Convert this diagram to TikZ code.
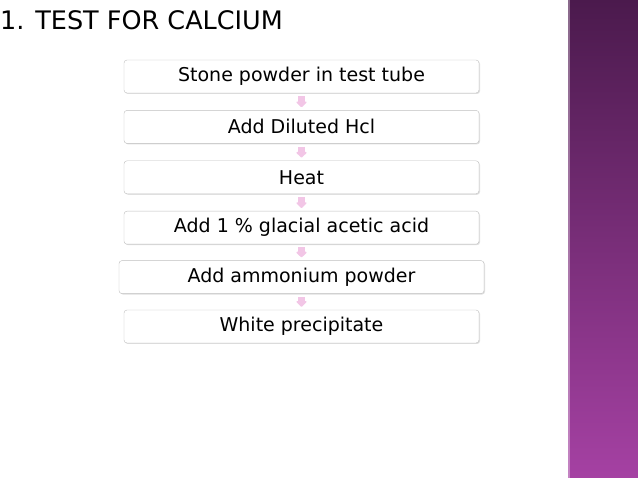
\documentclass[tikz,border=0pt]{standalone}
\usepackage{fontspec}
\setmainfont{DejaVu Sans}
\usetikzlibrary{positioning, arrows.meta, shadows}
\definecolor{barTop}{HTML}{4B1A4D}
\definecolor{barBot}{HTML}{A541A3}
\definecolor{chev}{HTML}{F2C6E6}

\begin{document}
\begin{tikzpicture}[x=1pt,y=1pt,node distance=17pt,
  stepbox/.style={draw=gray!50,rounded corners=3pt,fill=white,minimum width=355pt,
    minimum height=33pt,font=\fontsize{19}{22}\selectfont,
    drop shadow={shadow xshift=1pt,shadow yshift=-1pt,opacity=0.25}},
  chevarrow/.style={-{Triangle[width=12pt,length=6pt,round]},line width=7pt,draw=chev,
    shorten <=3pt,shorten >=3pt}]
  \useasboundingbox (0,0) rectangle (638,-478);
  % purple side bar
  \shade[top color=barTop,bottom color=barBot] (568,0) rectangle (638,-478);
  \fill[white,opacity=0.35] (568,0) rectangle (570,-478);
  \node[anchor=base west,inner sep=0pt,font=\fontsize{25.5}{30}\selectfont] (title) at (0,-30) {1. TEST FOR CALCIUM};
  \node[stepbox] (s1) at (301.5,-76.5) {Stone powder in test tube};
  \node[stepbox] (s2) [below=of s1] {Add Diluted Hcl};
  \node[stepbox] (s3) [below=of s2] {Heat};
  \node[stepbox] (s4) [below=of s3] {Add 1 \% glacial acetic acid};
  \node[stepbox,minimum width=365pt] (s5) [below=16pt of s4] {Add ammonium powder};
  \node[stepbox] (s6) [below=16pt of s5] {White precipitate};
  \foreach \a/\b in {s1/s2,s2/s3,s3/s4,s4/s5,s5/s6}
    \draw[chevarrow] (\a) -- (\b);
\end{tikzpicture}
\end{document}
